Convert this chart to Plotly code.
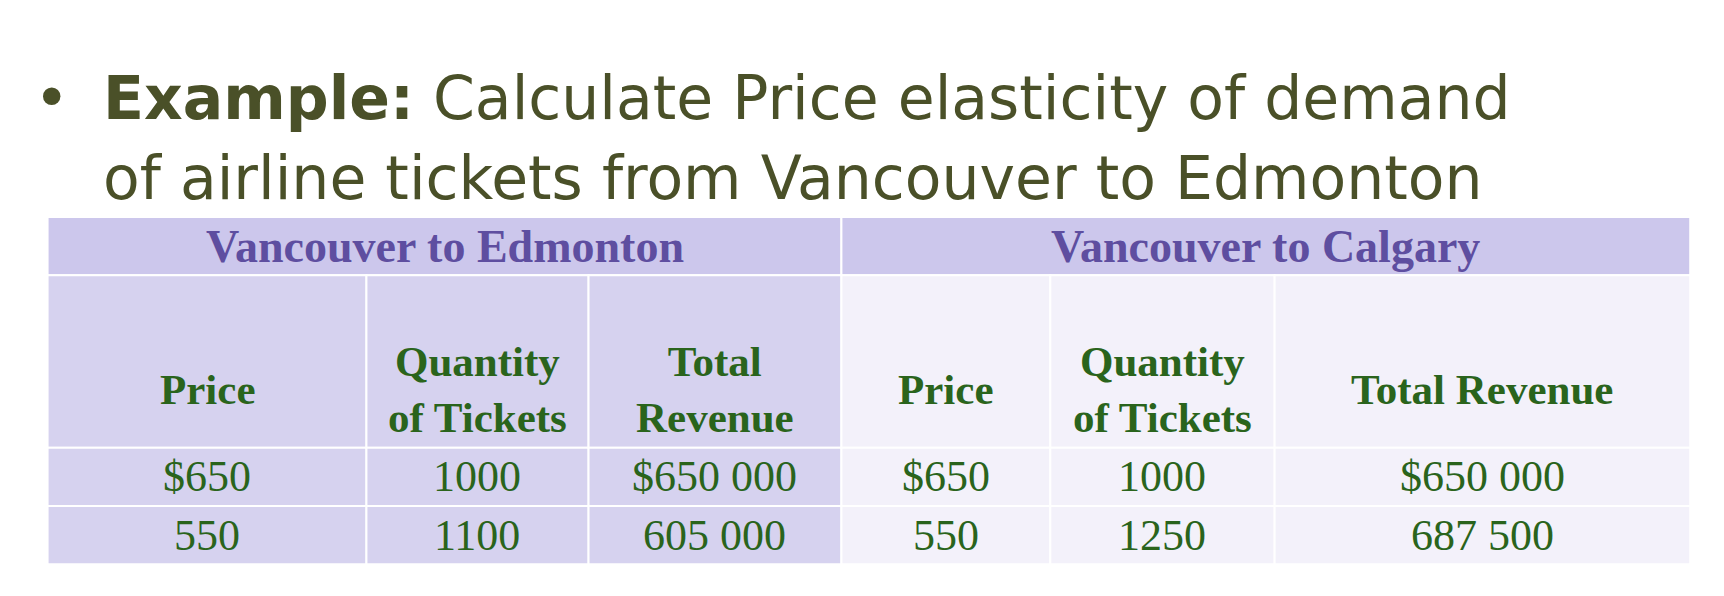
import plotly.graph_objects as go

routes = ["Vancouver to Edmonton", "Vancouver to Calgary"]
col_headers = ["Price", "Quantity<br>of Tickets", "Total<br>Revenue",
               "Price", "Quantity<br>of Tickets", "Total Revenue"]
rows = [
    ["$650", "1000", "$650 000", "$650", "1000", "$650 000"],
    ["550", "1100", "605 000", "550", "1250", "687 500"],
]

# layout of the table in pixel space (measured on a 1568-wide view)
S = 1724 / 1568
col_x = [v * S for v in [36, 326, 528, 758, 948, 1152, 1530]]
row_y = [v * S for v in [190, 243, 400, 453, 506]]
left_fill = "rgb(214,210,239)"
right_fill = "rgb(243,241,250)"
top_fill = "rgb(204,199,236)"
purple = "rgb(94,78,160)"
green = "rgb(42,100,28)"
serif = "Liberation Serif"

fig = go.Figure()
fig.update_xaxes(range=[0, 1724], visible=False, fixedrange=True)
fig.update_yaxes(range=[596, 0], visible=False, fixedrange=True)

def cell(x0, x1, y0, y1, fill):
    fig.add_shape(type="rect", x0=x0, x1=x1, y0=y0, y1=y1, fillcolor=fill,
                  line=dict(color="white", width=2), layer="below")

# route header row
for i, name in enumerate(routes):
    x0, x1 = col_x[i * 3], col_x[i * 3 + 3]
    cell(x0, x1, row_y[0], row_y[1], top_fill)
    fig.add_annotation(x=(x0 + x1) / 2, y=(row_y[0] + row_y[1]) / 2, text=f"<b>{name}</b>",
                       showarrow=False, font=dict(family=serif, size=46, color=purple))

# column headers + body
for c in range(6):
    x0, x1 = col_x[c], col_x[c + 1]
    fill = left_fill if c < 3 else right_fill
    cell(x0, x1, row_y[1], row_y[2], fill)
    fig.add_annotation(x=(x0 + x1) / 2, y=(row_y[1] + row_y[2]) / 2 + 28, text=f"<b>{col_headers[c]}</b>",
                       showarrow=False, font=dict(family=serif, size=43, color=green))
    for r, row in enumerate(rows):
        y0, y1 = row_y[r + 2], row_y[r + 3]
        cell(x0, x1, y0, y1, fill)
        fig.add_annotation(x=(x0 + x1) / 2, y=(y0 + y1) / 2, text=row[c],
                           showarrow=False, font=dict(family=serif, size=44, color=green))

# slide title
title_font = dict(family="DejaVu Sans", size=60, color="rgb(74,80,40)")
fig.add_annotation(x=22 * S, y=82 * S, text="•", showarrow=False, xanchor="left", font=title_font)
fig.add_annotation(x=85 * S, y=82 * S, text="<b>Example:</b> Calculate Price elasticity of demand",
                   showarrow=False, xanchor="left", font=title_font)
fig.add_annotation(x=85 * S, y=155 * S, text="of airline tickets from Vancouver to Edmonton",
                   showarrow=False, xanchor="left", font=title_font)

fig.update_layout(width=1724, height=596, margin=dict(l=0, r=0, t=0, b=0),
                  paper_bgcolor="white", plot_bgcolor="white", showlegend=False)
fig.write_html("out.html", config={"displayModeBar": False})
